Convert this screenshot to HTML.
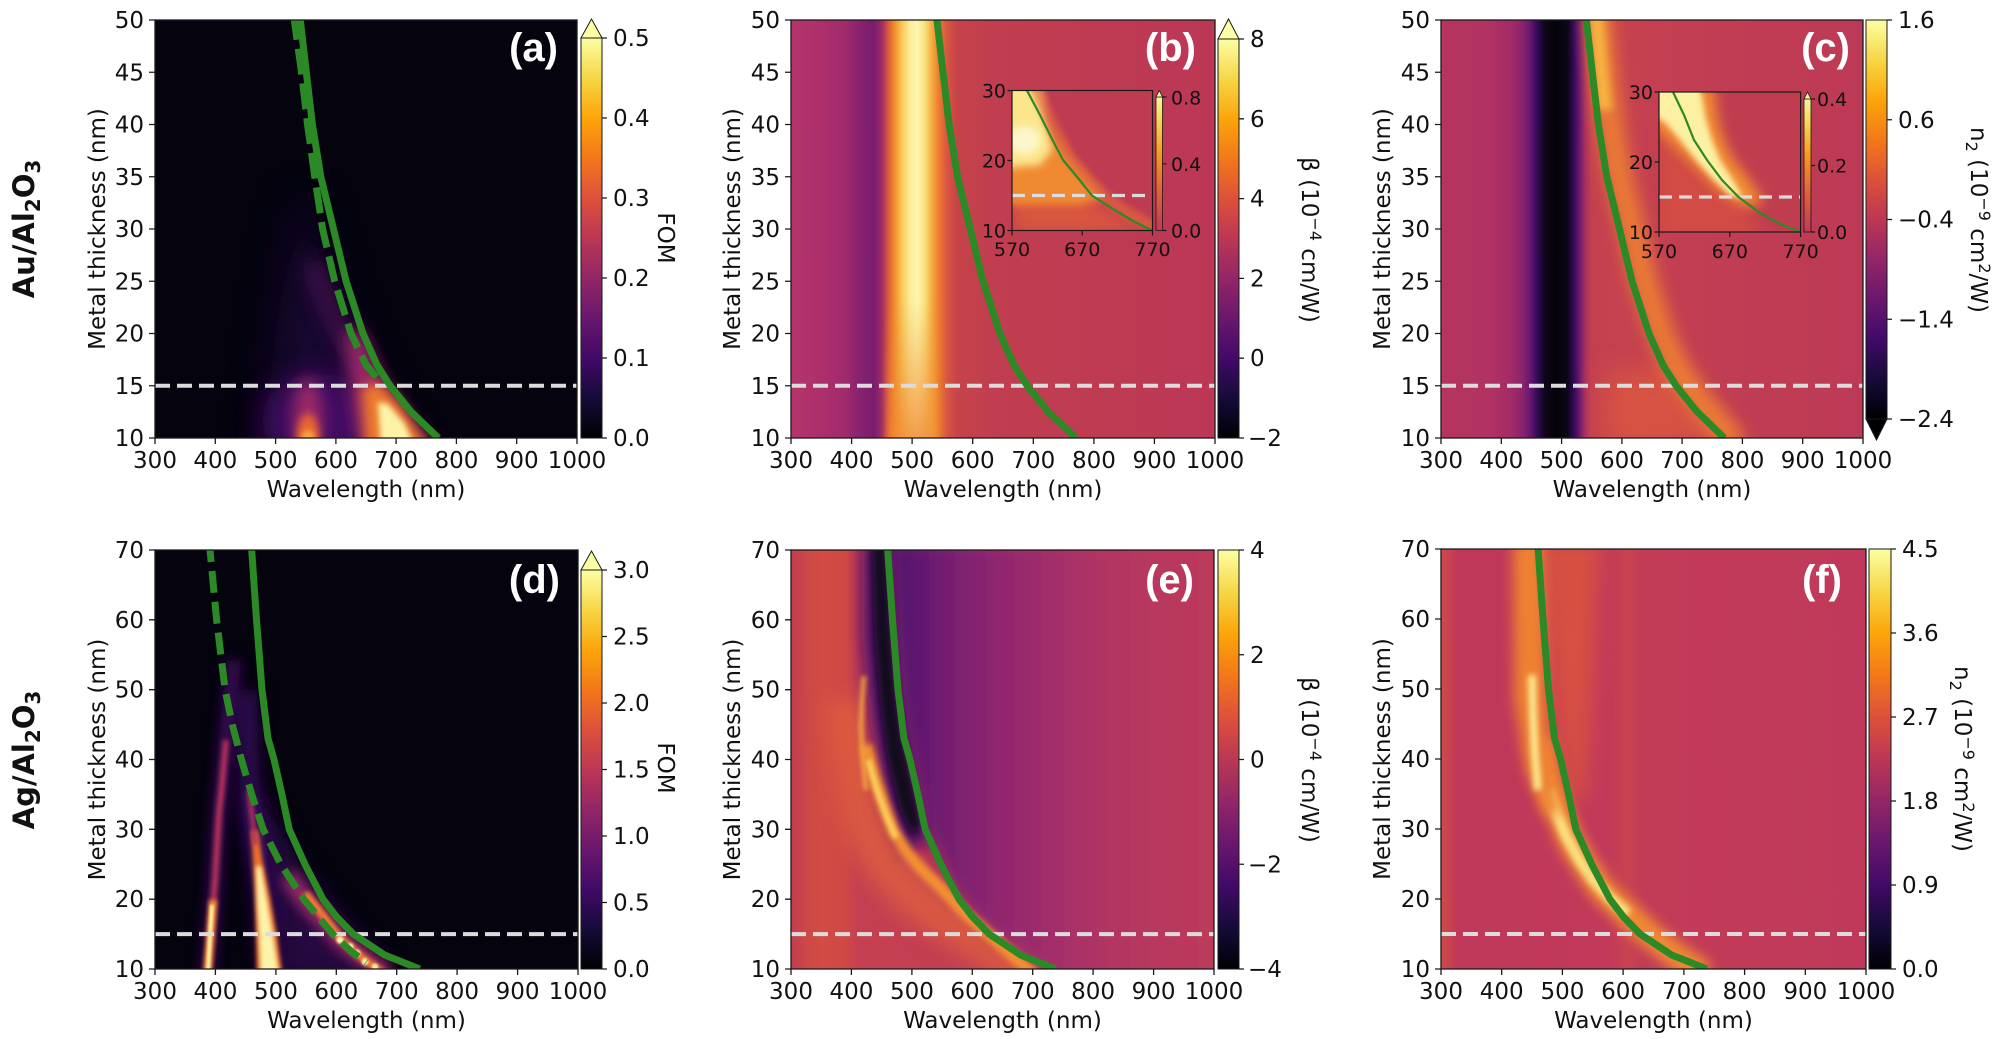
<!DOCTYPE html>
<html><head><meta charset="utf-8"><style>html,body{margin:0;padding:0;background:#fff}svg{display:block}</style></head>
<body>
<svg xmlns="http://www.w3.org/2000/svg" width="2001" height="1039" viewBox="0 0 2001 1039" font-family="'DejaVu Sans','Liberation Sans',sans-serif">
<defs>
<filter id="f1" filterUnits="userSpaceOnUse" x="0" y="0" width="2001" height="1039"><feGaussianBlur stdDeviation="1"/></filter>
<filter id="f2" filterUnits="userSpaceOnUse" x="0" y="0" width="2001" height="1039"><feGaussianBlur stdDeviation="2"/></filter>
<filter id="f3" filterUnits="userSpaceOnUse" x="0" y="0" width="2001" height="1039"><feGaussianBlur stdDeviation="3"/></filter>
<filter id="f4" filterUnits="userSpaceOnUse" x="0" y="0" width="2001" height="1039"><feGaussianBlur stdDeviation="4"/></filter>
<filter id="f6" filterUnits="userSpaceOnUse" x="0" y="0" width="2001" height="1039"><feGaussianBlur stdDeviation="6"/></filter>
<filter id="f8" filterUnits="userSpaceOnUse" x="0" y="0" width="2001" height="1039"><feGaussianBlur stdDeviation="8"/></filter>
<filter id="f10" filterUnits="userSpaceOnUse" x="0" y="0" width="2001" height="1039"><feGaussianBlur stdDeviation="10"/></filter>
<filter id="f14" filterUnits="userSpaceOnUse" x="0" y="0" width="2001" height="1039"><feGaussianBlur stdDeviation="14"/></filter>
<filter id="f20" filterUnits="userSpaceOnUse" x="0" y="0" width="2001" height="1039"><feGaussianBlur stdDeviation="20"/></filter>
<linearGradient id="inf" x1="0" y1="1" x2="0" y2="0">
<stop offset="0" stop-color="#000004"/><stop offset="0.1" stop-color="#160b39"/><stop offset="0.2" stop-color="#420a68"/><stop offset="0.3" stop-color="#6a176e"/><stop offset="0.4" stop-color="#932667"/><stop offset="0.5" stop-color="#bc3754"/><stop offset="0.6" stop-color="#dd513a"/><stop offset="0.7" stop-color="#f37819"/><stop offset="0.8" stop-color="#fca50a"/><stop offset="0.9" stop-color="#f6d746"/><stop offset="1" stop-color="#fcffa4"/>
</linearGradient>
<linearGradient id="infHi" x1="0" y1="1" x2="0" y2="0">
<stop offset="0" stop-color="#c23a52"/><stop offset="0.3" stop-color="#e5603a"/><stop offset="0.6" stop-color="#f8a020"/><stop offset="0.85" stop-color="#f7dc60"/><stop offset="1" stop-color="#fbf4a0"/>
</linearGradient>
<linearGradient id="gB" gradientUnits="userSpaceOnUse" x1="791" y1="0" x2="1215" y2="0">
<stop offset="0" stop-color="#b3356a"/><stop offset="0.068" stop-color="#ad306b"/><stop offset="0.130" stop-color="#a02a6c"/><stop offset="0.162" stop-color="#88226f"/><stop offset="0.196" stop-color="#7a1c6e"/><stop offset="0.215" stop-color="#a02e62"/><stop offset="0.229" stop-color="#d8583e"/><stop offset="0.245" stop-color="#f2902c"/><stop offset="0.262" stop-color="#f8c85a"/><stop offset="0.280" stop-color="#fbec98"/><stop offset="0.298" stop-color="#fcf6b0"/><stop offset="0.316" stop-color="#f9e07e"/><stop offset="0.332" stop-color="#f4ac40"/><stop offset="0.348" stop-color="#ec7e2e"/><stop offset="0.368" stop-color="#d85442"/><stop offset="0.392" stop-color="#c64349"/><stop offset="0.469" stop-color="#c13e50"/><stop offset="1" stop-color="#bb3755"/>
</linearGradient>
<linearGradient id="gBb" x1="0" y1="0" x2="0" y2="1">
<stop offset="0" stop-color="#f08a30" stop-opacity="0"/><stop offset="1" stop-color="#ef8530" stop-opacity="0.85"/>
</linearGradient>
<linearGradient id="gC" gradientUnits="userSpaceOnUse" x1="1441" y1="0" x2="1863" y2="0">
<stop offset="0" stop-color="#b5355e"/><stop offset="0.114" stop-color="#b23263"/><stop offset="0.165" stop-color="#a42b69"/><stop offset="0.195" stop-color="#8a226d"/><stop offset="0.214" stop-color="#601570"/><stop offset="0.230" stop-color="#2e0a52"/><stop offset="0.246" stop-color="#0e0619"/><stop offset="0.275" stop-color="#040309"/><stop offset="0.300" stop-color="#0e0619"/><stop offset="0.315" stop-color="#320a5a"/><stop offset="0.328" stop-color="#6a186e"/><stop offset="0.342" stop-color="#a83060"/><stop offset="0.356" stop-color="#c34050"/><stop offset="0.428" stop-color="#c64250"/><stop offset="0.571" stop-color="#c23e52"/><stop offset="1" stop-color="#bd3a56"/>
</linearGradient>
<linearGradient id="gE" gradientUnits="userSpaceOnUse" x1="791" y1="0" x2="1214" y2="0">
<stop offset="0" stop-color="#c23e50"/><stop offset="0.035" stop-color="#cc4747"/><stop offset="0.07" stop-color="#d24c43"/><stop offset="0.13" stop-color="#cf4846"/><stop offset="0.158" stop-color="#c44050"/><stop offset="1" stop-color="#bd3a58"/>
</linearGradient>
<linearGradient id="gEr" gradientUnits="userSpaceOnUse" x1="890" y1="0" x2="1214" y2="0">
<stop offset="0" stop-color="#4a1070"/><stop offset="0.1" stop-color="#641870"/><stop offset="0.22" stop-color="#7e2170"/><stop offset="0.35" stop-color="#92276e"/><stop offset="0.5" stop-color="#a22e6a"/><stop offset="0.65" stop-color="#b03464"/><stop offset="0.8" stop-color="#b8385e"/><stop offset="1" stop-color="#bc3a5a"/>
</linearGradient>
<linearGradient id="gF" gradientUnits="userSpaceOnUse" x1="1441" y1="0" x2="1866" y2="0">
<stop offset="0" stop-color="#d04a46"/><stop offset="0.019" stop-color="#c84350"/><stop offset="0.04" stop-color="#bf3859"/><stop offset="0.39" stop-color="#c2395a"/><stop offset="0.44" stop-color="#c84350"/><stop offset="0.48" stop-color="#c23b57"/><stop offset="1" stop-color="#c0395a"/>
</linearGradient>
<clipPath id="cA"><rect x="155" y="20" width="422" height="418"/></clipPath>
<clipPath id="cB"><rect x="791" y="20" width="424" height="418"/></clipPath>
<clipPath id="cC"><rect x="1441" y="20" width="422" height="418"/></clipPath>
<clipPath id="cD"><rect x="155" y="550" width="423" height="419"/></clipPath>
<clipPath id="cE"><rect x="791" y="550" width="423" height="419"/></clipPath>
<clipPath id="cF"><rect x="1441" y="549" width="425" height="420"/></clipPath>
<clipPath id="cBi"><rect x="1012" y="90.5" width="140.5" height="140"/></clipPath>
<clipPath id="cCi"><rect x="1659" y="92" width="141.6" height="140"/></clipPath>
</defs>
<rect width="2001" height="1039" fill="#fff"/>

<!-- ================= PANEL A ================= -->
<g clip-path="url(#cA)">
<rect x="155" y="20" width="422" height="418" fill="#04030e"/>
<polygon points="262,460 275,340 290,250 302,190 316,230 335,300 365,370 410,460" fill="#2c0a52" opacity="0.5" filter="url(#f20)"/>
<ellipse cx="320" cy="420" rx="58" ry="46" fill="#55107a" opacity="0.7" filter="url(#f14)"/>
<polyline points="312,262 326,300 345,340 368,378" stroke="#6a1870" stroke-width="14" fill="none" filter="url(#f10)" opacity="0.7"/>
<ellipse cx="308" cy="420" rx="14" ry="42" fill="#a02c68" filter="url(#f8)"/>
<ellipse cx="308" cy="436" rx="11" ry="22" fill="#e8652f" filter="url(#f4)"/>
<ellipse cx="308" cy="442" rx="7" ry="12" fill="#f8a840" filter="url(#f3)"/>
<polygon points="345,330 362,330 382,378 436,450 360,450 350,380" fill="#9a2868" filter="url(#f8)"/>
<polygon points="362,388 378,382 400,405 430,450 366,450" fill="#ee7a2a" filter="url(#f6)"/>
<polygon points="378,402 388,404 405,424 416,450 381,450" fill="#fcf3a8" filter="url(#f3)"/>
<line x1="155" y1="385.75" x2="577" y2="385.75" stroke="#dcdcdc" stroke-width="4" stroke-dasharray="15 7"/>
<polyline points="293.5,14 294.3,20 301.5,72.25 307.5,124.5 314.8,176.75 322.6,229 334.7,281.25 351,333.5 366,364.85 379.3,380.5" stroke="#2b8a26" stroke-width="7" fill="none" stroke-dasharray="26 9"/>
<polyline points="299.5,12 300.3,20 306.3,72.25 312.4,124.5 320.8,176.75 333.5,229 346.1,281.25 363,333.5 376.9,364.85 390.1,385.75 411.2,411.9 438.4,438" stroke="#2b8a26" stroke-width="7" fill="none" stroke-linejoin="round"/>
</g>
<rect x="155" y="20" width="422" height="418" fill="none" stroke="#1a1a1a" stroke-width="1.3"/>

<!-- ================= PANEL B ================= -->
<g clip-path="url(#cB)">
<rect x="791" y="20" width="424" height="418" fill="url(#gB)"/>
<rect x="888" y="300" width="46" height="150" fill="url(#gBb)" filter="url(#f4)"/>
<line x1="791" y1="385.75" x2="1215" y2="385.75" stroke="#dcdcdc" stroke-width="4" stroke-dasharray="15 7"/>
<polyline points="936.5,12 937,20 943,72.25 949.1,124.5 957.6,176.75 970.3,229 983,281.25 1000,333.5 1013.9,364.85 1027.2,385.75 1048.4,411.9 1075.7,438" stroke="#2b8a26" stroke-width="7" fill="none" stroke-linejoin="round"/>
</g>
<rect x="791" y="20" width="424" height="418" fill="none" stroke="#1a1a1a" stroke-width="1.3"/>
<!-- inset B -->
<g clip-path="url(#cBi)">
<rect x="1012" y="90" width="141" height="141" fill="#bf3b52"/>
<polygon points="1012,160 1060,165 1100,205 1153,235 1012,235" fill="#d85540" filter="url(#f8)"/>
<polygon points="1004,84 1032,84 1045,118 1058,139 1072,160 1088,178 1104,198 1080,205 1004,205" fill="#f08a30" filter="url(#f4)"/>
<polygon points="1004,84 1040,84 1048,130 1052,150 1040,165 1004,168" fill="#fbe68c" filter="url(#f4)"/>
<ellipse cx="1024" cy="140" rx="16" ry="14" fill="#fdf6cc" filter="url(#f4)"/>
<polyline points="1034,84 1048,115 1060,139 1071,160 1087,178 1103,195 1122,209 1142,221 1160,230" stroke="#e46a3a" stroke-width="12" fill="none" opacity="0.6" filter="url(#f3)"/>
<line x1="1012" y1="195.5" x2="1153" y2="195.5" stroke="#dcdcdc" stroke-width="3.3" stroke-dasharray="13 7"/>
<polyline points="1026.7,90 1040,115 1052,139 1063,160 1078,178 1092,195.5 1113,209 1133,221 1152,230.5" stroke="#2b8a26" stroke-width="2.2" fill="none"/>
</g>
<rect x="1012" y="90.5" width="140.5" height="140" fill="none" stroke="#1a1a1a" stroke-width="1.2"/>
<rect x="1156" y="97" width="6.5" height="133.5" fill="url(#infHi)" stroke="#1a1a1a" stroke-width="0.8"/>
<polygon points="1156,97 1159.25,90.5 1162.5,97" fill="#fbf4a0" stroke="#1a1a1a" stroke-width="0.8"/>
<path d="M1007.5 90.5h4.5M1007.5 160.5h4.5M1007.5 230.5h4.5M1012 230.5v5M1082.2 230.5v5M1152.5 230.5v5M1162.5 97h4M1162.5 163.8h4M1162.5 230.5h4" stroke="#1a1a1a" stroke-width="1.2"/>
<g font-size="19" fill="#111">
<text x="1006" y="97.5" text-anchor="end">30</text>
<text x="1006" y="167.5" text-anchor="end">20</text>
<text x="1006" y="237.5" text-anchor="end">10</text>
<text x="1012" y="256" text-anchor="middle">570</text>
<text x="1082.2" y="256" text-anchor="middle">670</text>
<text x="1152.5" y="256" text-anchor="middle">770</text>
<text x="1171" y="104.5">0.8</text>
<text x="1171" y="171">0.4</text>
<text x="1171" y="237.5">0.0</text>
</g>

<!-- ================= PANEL C ================= -->
<g clip-path="url(#cC)">
<rect x="1441" y="20" width="422" height="418" fill="url(#gC)"/>
<polygon points="1605,375 1668,365 1700,410 1730,450 1605,450" fill="#dc5840" opacity="0.8" filter="url(#f14)"/>
<polyline points="1598,10 1604,72 1610,124.5 1619,177 1632,229 1644,281 1661,333.5 1675,365 1688,386 1709,412 1736,445" stroke="#ef8232" stroke-width="26" fill="none" opacity="0.9" filter="url(#f8)"/>
<polyline points="1596,10 1600,60 1605,110" stroke="#f7b443" stroke-width="14" fill="none" filter="url(#f4)"/>
<line x1="1441" y1="385.75" x2="1863" y2="385.75" stroke="#dcdcdc" stroke-width="4" stroke-dasharray="15 7"/>
<polyline points="1585.8,12 1586.3,20 1592.3,72.25 1598.4,124.5 1606.8,176.75 1619.5,229 1632.1,281.25 1649,333.5 1662.9,364.85 1676.1,385.75 1697.2,411.9 1724.4,438" stroke="#2b8a26" stroke-width="7" fill="none" stroke-linejoin="round"/>
</g>
<rect x="1441" y="20" width="422" height="418" fill="none" stroke="#1a1a1a" stroke-width="1.3"/>
<!-- inset C -->
<g clip-path="url(#cCi)">
<rect x="1659" y="92" width="142" height="141" fill="#c03d50"/>
<polygon points="1655,110 1700,140 1730,185 1765,240 1655,240" fill="#d24b45" filter="url(#f8)"/>
<polygon points="1652,86 1714,86 1718,120 1724,140 1734,160 1750,180 1764,202 1745,208 1720,192 1700,172 1680,152 1662,134 1652,128" fill="#f28c30" filter="url(#f6)"/>
<polygon points="1652,86 1700,86 1706,120 1712,140 1720,160 1733,180 1743,197 1732,197 1712,178 1696,160 1680,140 1665,122 1652,116" fill="#fcf0a2" filter="url(#f3)"/>
<line x1="1659" y1="197" x2="1801" y2="197" stroke="#dcdcdc" stroke-width="3.3" stroke-dasharray="13 7"/>
<polyline points="1673,92 1684,115 1694,140 1707,160 1722,180 1738.5,197 1760,213 1780,224 1800.6,232" stroke="#2b8a26" stroke-width="2.2" fill="none"/>
</g>
<rect x="1659" y="92" width="141.6" height="140" fill="none" stroke="#1a1a1a" stroke-width="1.2"/>
<rect x="1804" y="99" width="7" height="133" fill="url(#infHi)" stroke="#1a1a1a" stroke-width="0.8"/>
<polygon points="1804,99 1807.5,92 1811,99" fill="#fbf4a0" stroke="#1a1a1a" stroke-width="0.8"/>
<path d="M1654.5 92h4.5M1654.5 162h4.5M1654.5 232h4.5M1659 232v5M1729.8 232v5M1800.6 232v5M1811 99h4M1811 165.5h4M1811 232h4" stroke="#1a1a1a" stroke-width="1.2"/>
<g font-size="19" fill="#111">
<text x="1653" y="99" text-anchor="end">30</text>
<text x="1653" y="169" text-anchor="end">20</text>
<text x="1653" y="239" text-anchor="end">10</text>
<text x="1659" y="258" text-anchor="middle">570</text>
<text x="1729.8" y="258" text-anchor="middle">670</text>
<text x="1800.6" y="258" text-anchor="middle">770</text>
<text x="1817" y="106">0.4</text>
<text x="1817" y="172.5">0.2</text>
<text x="1817" y="239">0.0</text>
</g>

<!-- ================= PANEL D ================= -->
<g clip-path="url(#cD)">
<rect x="155" y="550" width="423" height="419" fill="#04030e"/>
<polygon points="238,780 262,800 300,865 345,920 395,980 282,980 270,905 248,830" fill="#3a0a60" opacity="0.6" filter="url(#f10)"/>
<polyline points="207,980 211,935 215,880 219,813 222,780 228,720 234,660" stroke="#4a0e6a" stroke-width="14" fill="none" opacity="0.8" filter="url(#f6)"/>
<polyline points="207,980 211,935 215,880 219,813 222,785 226,740" stroke="#b8325c" stroke-width="6" fill="none" filter="url(#f2)"/>
<polyline points="207,980 210,940 213,900" stroke="#f28a30" stroke-width="8" fill="none" filter="url(#f2)"/>
<polyline points="207.5,980 209.5,945 212,905" stroke="#fcf0a0" stroke-width="4" fill="none" filter="url(#f1)"/>
<polyline points="270,980 266.7,935 262.5,897 258,863 254.5,830 250.5,797 248,750 247,690" stroke="#40096a" stroke-width="20" fill="none" opacity="0.75" filter="url(#f8)"/>
<polygon points="257,980 283,980 277,935 270,897 263,863 258,830 251,830 253,863 255,897 256,935" fill="#ec6f2c" filter="url(#f2)"/>
<polygon points="261,980 280,980 273,935 267,900 261,866 256,866 257,900 259,935" fill="#fcf3a8" filter="url(#f2)"/>
<polyline points="255.5,845 252,815 249,790" stroke="#b0305e" stroke-width="5" fill="none" filter="url(#f2)"/>
<polyline points="288,875 305,900 321,918 343,942 366,959 388,975" stroke="#9a2868" stroke-width="18" fill="none" filter="url(#f6)"/>
<polyline points="305,893 321,913 340,938 360,956 385,975" stroke="#f07a30" stroke-width="8" fill="none" filter="url(#f2)"/>
<g fill="#fcf3b0" filter="url(#f1)"><circle cx="340" cy="940" r="3.6"/><circle cx="350" cy="946.7" r="3.6"/><circle cx="357" cy="953.3" r="3.6"/><circle cx="365" cy="961.7" r="3.4"/><circle cx="375" cy="966.7" r="3.2"/></g>
<line x1="155" y1="934.1" x2="578" y2="934.1" stroke="#dcdcdc" stroke-width="4" stroke-dasharray="15 7"/>
<polyline points="209.5,540 210,550 216.6,619.8 225.1,689.7 232.3,724.6 241.4,759.5 251.7,794.4 263.2,829.3 280.7,864.2 303.7,899.2 318.2,916.6 332.7,934.1 351.4,951.6 366.5,962" stroke="#2b8a26" stroke-width="7" fill="none" stroke-dasharray="22 9"/>
<polyline points="251,540 251.7,550 256.5,619.8 262,689.7 268,738.5 274,759.5 281.9,794.4 289.2,829.3 304.9,864.2 323,899.2 336.3,916.6 353.2,934.1 384.6,955 419.7,969" stroke="#2b8a26" stroke-width="7" fill="none" stroke-linejoin="round"/>
</g>
<rect x="155" y="550" width="423" height="419" fill="none" stroke="#1a1a1a" stroke-width="1.3"/>

<!-- ================= PANEL E ================= -->
<g clip-path="url(#cE)">
<rect x="791" y="550" width="423" height="419" fill="url(#gE)"/>
<polyline points="845,700 852,760 862,820 880,860 910,895 950,925 990,950 1025,975" stroke="#e0603c" stroke-width="38" fill="none" opacity="0.75" filter="url(#f10)"/>
<polygon points="862,540 890,540 896,650 905,720 920,790 932,840 905,852 885,800 870,720 862,640" fill="#4a0e6a" filter="url(#f8)"/>
<polygon points="872,540 888,540 892,620 898,690 906,740 916,790 923,825 912,835 900,810 888,760 880,700 875,640" fill="#0d0719" filter="url(#f4)"/>
<polygon points="888,540 1240,540 1240,990 1058,990 1020.6,955 989.2,934 959,899 941,864 925,829 918,794 910,760 904,738 898,690 892.5,620" fill="url(#gEr)" filter="url(#f8)"/>
<polyline points="866,745 874,775 884,805 893,830 905,850 920,868 940,887 966,915 991,937 1017,960 1035,975" stroke="#f29030" stroke-width="12" fill="none" filter="url(#f3)"/>
<polyline points="868,760 877,790 886,815 896,838" stroke="#fbd060" stroke-width="6" fill="none" filter="url(#f2)"/>
<polyline points="864,676 862,700 861,730 863,760 866,790" stroke="#f7a840" stroke-width="5" fill="none" opacity="0.85" filter="url(#f2)"/>
<line x1="791" y1="934.1" x2="1214" y2="934.1" stroke="#dcdcdc" stroke-width="4" stroke-dasharray="15 7"/>
<polyline points="887,540 887.7,550 892.5,619.8 898,689.7 904,738.5 910,759.5 917.9,794.4 925.2,829.3 940.9,864.2 959,899.2 972.3,916.6 989.2,934.1 1020.6,955 1055.7,969" stroke="#2b8a26" stroke-width="7" fill="none" stroke-linejoin="round"/>
</g>
<rect x="791" y="550" width="423" height="419" fill="none" stroke="#1a1a1a" stroke-width="1.3"/>

<!-- ================= PANEL F ================= -->
<g clip-path="url(#cF)">
<rect x="1441" y="549" width="425" height="420" fill="url(#gF)"/>
<polygon points="1540,540 1600,540 1595,650 1590,740 1585,800 1570,800 1556,720 1548,640" fill="#d9523f" opacity="0.9" filter="url(#f10)"/>
<polyline points="1540,740 1548,780 1558,810 1570,840 1585,865 1602,890 1625,912 1650,935 1675,955 1705,975" stroke="#f08a32" stroke-width="26" fill="none" filter="url(#f6)"/>
<polyline points="1548,790 1556,812 1566,836 1578,858 1593,880 1610,898 1628,914" stroke="#fae080" stroke-width="11" fill="none" filter="url(#f3)"/>
<polygon points="1513,540 1544,540 1547,700 1552,780 1560,815 1545,815 1526,770 1514,700" fill="#ee8030" filter="url(#f6)"/>
<polyline points="1532,675 1533,715 1535,755 1538,790" stroke="#fbe98e" stroke-width="8" fill="none" filter="url(#f3)"/>
<line x1="1441" y1="934" x2="1866" y2="934" stroke="#dcdcdc" stroke-width="4" stroke-dasharray="15 7"/>
<polyline points="1537.5,540 1538.1,549 1543,619 1548.5,689 1554.5,738 1560.6,759 1568.5,794 1575.8,829 1591.6,864 1609.8,899 1623.1,916.5 1640.1,934 1671.7,955 1706.9,969" stroke="#2b8a26" stroke-width="7" fill="none" stroke-linejoin="round"/>
</g>
<rect x="1441" y="549" width="425" height="420" fill="none" stroke="#1a1a1a" stroke-width="1.3"/>

<!-- ================= COLORBARS ================= -->
<rect x="581" y="38" width="21" height="400" fill="url(#inf)" stroke="#1a1a1a" stroke-width="1"/>
<polygon points="581,38 591.5,19 602,38" fill="#fcffa4" stroke="#1a1a1a" stroke-width="1"/>
<rect x="1218" y="39" width="21" height="399" fill="url(#inf)" stroke="#1a1a1a" stroke-width="1"/>
<polygon points="1218,39 1228.5,19 1239,39" fill="#fcffa4" stroke="#1a1a1a" stroke-width="1"/>
<rect x="1866" y="20" width="21" height="399" fill="url(#inf)" stroke="#1a1a1a" stroke-width="1"/>
<polygon points="1866,419 1876.5,440 1887,419" fill="#000004" stroke="#1a1a1a" stroke-width="1"/>
<rect x="581" y="570" width="21" height="399" fill="url(#inf)" stroke="#1a1a1a" stroke-width="1"/>
<polygon points="581,570 591.5,551 602,570" fill="#fcffa4" stroke="#1a1a1a" stroke-width="1"/>
<rect x="1218" y="550" width="21" height="419" fill="url(#inf)" stroke="#1a1a1a" stroke-width="1"/>
<rect x="1869" y="549" width="22" height="420" fill="url(#inf)" stroke="#1a1a1a" stroke-width="1"/>

<!-- ================= TICKS ================= -->
<path stroke="#1a1a1a" stroke-width="1.3" fill="none" d="
M149 20h6M149 72.25h6M149 124.5h6M149 176.75h6M149 229h6M149 281.25h6M149 333.5h6M149 385.75h6M149 438h6
M155 438v6M215.3 438v6M275.6 438v6M335.9 438v6M396.1 438v6M456.4 438v6M516.7 438v6M577 438v6
M785 20h6M785 72.25h6M785 124.5h6M785 176.75h6M785 229h6M785 281.25h6M785 333.5h6M785 385.75h6M785 438h6
M791 438v6M851.6 438v6M912.1 438v6M972.7 438v6M1033.3 438v6M1093.9 438v6M1154.4 438v6M1215 438v6
M1435 20h6M1435 72.25h6M1435 124.5h6M1435 176.75h6M1435 229h6M1435 281.25h6M1435 333.5h6M1435 385.75h6M1435 438h6
M1441 438v6M1501.3 438v6M1561.6 438v6M1621.9 438v6M1682.1 438v6M1742.4 438v6M1802.7 438v6M1863 438v6
M149 550h6M149 619.8h6M149 689.7h6M149 759.5h6M149 829.3h6M149 899.2h6M149 969h6
M155 969v6M215.4 969v6M275.9 969v6M336.3 969v6M396.7 969v6M457.1 969v6M517.6 969v6M578 969v6
M785 550h6M785 619.8h6M785 689.7h6M785 759.5h6M785 829.3h6M785 899.2h6M785 969h6
M791 969v6M851.4 969v6M911.9 969v6M972.3 969v6M1032.7 969v6M1093.1 969v6M1153.6 969v6M1214 969v6
M1435 549h6M1435 619h6M1435 689h6M1435 759h6M1435 829h6M1435 899h6M1435 969h6
M1441 969v6M1501.7 969v6M1562.4 969v6M1623.1 969v6M1683.9 969v6M1744.6 969v6M1805.3 969v6M1866 969v6
M602 38h5M602 118h5M602 198h5M602 278h5M602 358h5M602 438h5
M1239 39h5M1239 118.8h5M1239 198.6h5M1239 278.4h5M1239 358.2h5M1239 438h5
M1887 20h5M1887 119.75h5M1887 219.5h5M1887 319.25h5M1887 419h5
M602 570h5M602 636.5h5M602 703h5M602 769.5h5M602 836h5M602 902.5h5M602 969h5
M1239 550h5M1239 654.75h5M1239 759.5h5M1239 864.25h5M1239 969h5
M1891 549h5M1891 633h5M1891 717h5M1891 801h5M1891 885h5M1891 969h5"/>

<!-- ================= TICK LABELS ================= -->
<g font-size="23" fill="#111">
<g text-anchor="end">
<text x="144" y="28">50</text><text x="144" y="80.25">45</text><text x="144" y="132.5">40</text><text x="144" y="184.75">35</text><text x="144" y="237">30</text><text x="144" y="289.25">25</text><text x="144" y="341.5">20</text><text x="144" y="393.75">15</text><text x="144" y="446">10</text>
<text x="780" y="28">50</text><text x="780" y="80.25">45</text><text x="780" y="132.5">40</text><text x="780" y="184.75">35</text><text x="780" y="237">30</text><text x="780" y="289.25">25</text><text x="780" y="341.5">20</text><text x="780" y="393.75">15</text><text x="780" y="446">10</text>
<text x="1430" y="28">50</text><text x="1430" y="80.25">45</text><text x="1430" y="132.5">40</text><text x="1430" y="184.75">35</text><text x="1430" y="237">30</text><text x="1430" y="289.25">25</text><text x="1430" y="341.5">20</text><text x="1430" y="393.75">15</text><text x="1430" y="446">10</text>
<text x="144" y="558">70</text><text x="144" y="627.8">60</text><text x="144" y="697.7">50</text><text x="144" y="767.5">40</text><text x="144" y="837.3">30</text><text x="144" y="907.2">20</text><text x="144" y="977">10</text>
<text x="780" y="558">70</text><text x="780" y="627.8">60</text><text x="780" y="697.7">50</text><text x="780" y="767.5">40</text><text x="780" y="837.3">30</text><text x="780" y="907.2">20</text><text x="780" y="977">10</text>
<text x="1430" y="557">70</text><text x="1430" y="627">60</text><text x="1430" y="697">50</text><text x="1430" y="767">40</text><text x="1430" y="837">30</text><text x="1430" y="907">20</text><text x="1430" y="977">10</text>
</g>
<g text-anchor="middle">
<text x="155" y="468">300</text><text x="215.3" y="468">400</text><text x="275.6" y="468">500</text><text x="335.9" y="468">600</text><text x="396.1" y="468">700</text><text x="456.4" y="468">800</text><text x="516.7" y="468">900</text><text x="577" y="468">1000</text>
<text x="791" y="468">300</text><text x="851.6" y="468">400</text><text x="912.1" y="468">500</text><text x="972.7" y="468">600</text><text x="1033.3" y="468">700</text><text x="1093.9" y="468">800</text><text x="1154.4" y="468">900</text><text x="1215" y="468">1000</text>
<text x="1441" y="468">300</text><text x="1501.3" y="468">400</text><text x="1561.6" y="468">500</text><text x="1621.9" y="468">600</text><text x="1682.1" y="468">700</text><text x="1742.4" y="468">800</text><text x="1802.7" y="468">900</text><text x="1863" y="468">1000</text>
<text x="155" y="999">300</text><text x="215.4" y="999">400</text><text x="275.9" y="999">500</text><text x="336.3" y="999">600</text><text x="396.7" y="999">700</text><text x="457.1" y="999">800</text><text x="517.6" y="999">900</text><text x="578" y="999">1000</text>
<text x="791" y="999">300</text><text x="851.4" y="999">400</text><text x="911.9" y="999">500</text><text x="972.3" y="999">600</text><text x="1032.7" y="999">700</text><text x="1093.1" y="999">800</text><text x="1153.6" y="999">900</text><text x="1214" y="999">1000</text>
<text x="1441" y="999">300</text><text x="1501.7" y="999">400</text><text x="1562.4" y="999">500</text><text x="1623.1" y="999">600</text><text x="1683.9" y="999">700</text><text x="1744.6" y="999">800</text><text x="1805.3" y="999">900</text><text x="1866" y="999">1000</text>
</g>
<!-- colorbar labels -->
<text x="613" y="46">0.5</text><text x="613" y="126">0.4</text><text x="613" y="206">0.3</text><text x="613" y="286">0.2</text><text x="613" y="366">0.1</text><text x="613" y="446">0.0</text>
<text x="1250" y="47">8</text><text x="1250" y="126.8">6</text><text x="1250" y="206.6">4</text><text x="1250" y="286.4">2</text><text x="1250" y="366.2">0</text><text x="1248" y="446">−2</text>
<text x="1898" y="28">1.6</text><text x="1898" y="127.75">0.6</text><text x="1898" y="227.5">−0.4</text><text x="1898" y="327.25">−1.4</text><text x="1898" y="427">−2.4</text>
<text x="613" y="578">3.0</text><text x="613" y="644.5">2.5</text><text x="613" y="711">2.0</text><text x="613" y="777.5">1.5</text><text x="613" y="844">1.0</text><text x="613" y="910.5">0.5</text><text x="613" y="977">0.0</text>
<text x="1250" y="558">4</text><text x="1250" y="662.75">2</text><text x="1250" y="767.5">0</text><text x="1248" y="872.25">−2</text><text x="1248" y="977">−4</text>
<text x="1902" y="557">4.5</text><text x="1902" y="641">3.6</text><text x="1902" y="725">2.7</text><text x="1902" y="809">1.8</text><text x="1902" y="893">0.9</text><text x="1902" y="977">0.0</text>

<!-- axis labels -->
<g text-anchor="middle">
<text x="366" y="497">Wavelength (nm)</text>
<text x="1003" y="497">Wavelength (nm)</text>
<text x="1652" y="497">Wavelength (nm)</text>
<text x="366.5" y="1028">Wavelength (nm)</text>
<text x="1002.5" y="1028">Wavelength (nm)</text>
<text x="1653.5" y="1028">Wavelength (nm)</text>
<text transform="translate(105,229) rotate(-90)">Metal thickness (nm)</text>
<text transform="translate(740,229) rotate(-90)">Metal thickness (nm)</text>
<text transform="translate(1390,229) rotate(-90)">Metal thickness (nm)</text>
<text transform="translate(105,759.5) rotate(-90)">Metal thickness (nm)</text>
<text transform="translate(740,759.5) rotate(-90)">Metal thickness (nm)</text>
<text transform="translate(1390,759) rotate(-90)">Metal thickness (nm)</text>
<text transform="translate(658,238) rotate(90)">FOM</text>
<text transform="translate(658,768) rotate(90)">FOM</text>
<text transform="translate(1302,240) rotate(90)">β (10<tspan dy="-8" font-size="16">−4</tspan><tspan dy="8"> cm/W)</tspan></text>
<text transform="translate(1302,760) rotate(90)">β (10<tspan dy="-8" font-size="16">−4</tspan><tspan dy="8"> cm/W)</tspan></text>
<text transform="translate(1971,220) rotate(90)">n<tspan dy="5" font-size="16">2</tspan><tspan dy="-5"> (10</tspan><tspan dy="-8" font-size="16">−9</tspan><tspan dy="8"> cm</tspan><tspan dy="-8" font-size="16">2</tspan><tspan dy="8">/W)</tspan></text>
<text transform="translate(1955,759) rotate(90)">n<tspan dy="5" font-size="16">2</tspan><tspan dy="-5"> (10</tspan><tspan dy="-8" font-size="16">−9</tspan><tspan dy="8"> cm</tspan><tspan dy="-8" font-size="16">2</tspan><tspan dy="8">/W)</tspan></text>
</g>
</g>

<!-- row labels -->
<g font-size="29" font-weight="bold" fill="#111" text-anchor="middle">
<text transform="translate(34,229) rotate(-90)">Au/Al<tspan dy="6" font-size="20">2</tspan><tspan dy="-6">O</tspan><tspan dy="6" font-size="20">3</tspan></text>
<text transform="translate(34,760) rotate(-90)">Ag/Al<tspan dy="6" font-size="20">2</tspan><tspan dy="-6">O</tspan><tspan dy="6" font-size="20">3</tspan></text>
</g>

<!-- panel labels -->
<g font-family="'Liberation Sans',Arial,sans-serif" font-weight="bold" font-size="40" fill="#fff" text-anchor="end">
<text x="558" y="61">(a)</text>
<text x="1196" y="61">(b)</text>
<text x="1850" y="61">(c)</text>
<text x="560" y="593">(d)</text>
<text x="1194" y="593">(e)</text>
<text x="1842" y="593">(f)</text>
</g>
</svg>
</body></html>
